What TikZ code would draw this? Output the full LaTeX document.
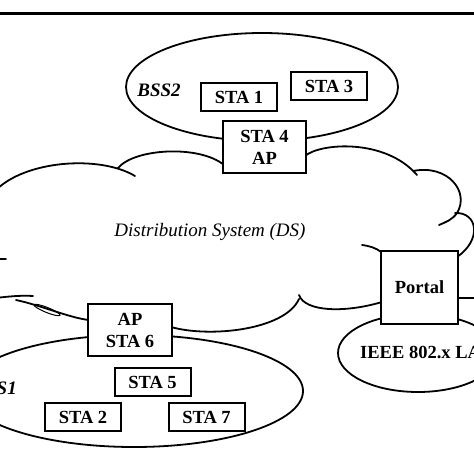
\documentclass[tikz,border=0pt]{standalone}
\usepackage{fontspec}
\setmainfont{Liberation Serif}
\usetikzlibrary{shapes.geometric}
\newcommand\lab{\fontsize{18.5}{22}\selectfont\bfseries}
\begin{document}
\begin{tikzpicture}[x=1pt,y=-1pt,
  box/.style={draw,line width=2pt,fill=white,inner sep=0pt,align=center,font=\lab},
  sta/.style={box,minimum width=76pt,minimum height=28pt},
  oval/.style={draw,ellipse,line width=1.8pt,inner sep=0pt},
  cloudline/.style={line width=1.8pt,line cap=round},
]
\useasboundingbox (0,0) rectangle (474,474);
\fill[white] (0,0) rectangle (474,474);
\clip (0,0) rectangle (474,474);

% top rule
\coordinate (tl) at (-2,13.5);
\coordinate (tr) at (476,13.5);
\draw[line width=3pt] (tl) -- (tr);

% ellipses
\node[oval,minimum width=272pt,minimum height=108pt] (bss2) at (262,87) {};
\node[oval,minimum width=338pt,minimum height=112pt] (bss1) at (134,391) {};
\node[oval,minimum width=160pt,minimum height=78pt] (lan) at (418,353) {};

% cloud (distribution system)
\draw[cloudline]
  (-5,191) .. controls (25,160) and (100,155) .. (135,176)
  (118,168) .. controls (135,148) and (200,145) .. (224,165)
  (305,156) .. controls (320,143) and (385,138) .. (417,175)
  (413,171) .. controls (448,164) and (470,192) .. (457,213) .. controls (452,220) and (446,222) .. (439,225)
  (455,213) .. controls (478,212) and (482,240) .. (457,257)
  (382,302) .. controls (345,313) and (305,312) .. (299,295)
  (299,299) .. controls (285,330) and (210,338) .. (171,327)
  (89,320) .. controls (70,318) and (40,305) .. (16,300)
  (33,296) .. controls (20,295) and (5,297) .. (-5,298)
  (-2,259) -- (6,259)
  (362,245) .. controls (370,246) and (376,248) .. (381,252);
\draw[line width=1pt,rotate around={-22:(47,310)}] (47,310) ellipse (14pt and 2.5pt);

% boxes
\node[sta] (sta1) at (239,97) {STA 1};
\node[sta] (sta3) at (329,86) {STA 3};
\node[box,minimum width=83pt,minimum height=52pt] (sta4) at (264.5,147) {STA 4\\AP};
\node[box,minimum width=77pt,minimum height=73pt] (portal) at (419.5,287.5) {Portal};
\node[box,minimum width=84pt,minimum height=52pt] (sta6) at (130,330) {AP\\STA 6};
\node[sta] (sta5) at (152.5,382) {STA 5};
\node[sta] (sta2) at (83,417) {STA 2};
\node[sta] (sta7) at (206.5,417) {STA 7};

% labels
\node[font=\fontsize{19}{22}\selectfont\bfseries\itshape] (lbss2) at (159,90) {BSS2};
\node[font=\fontsize{19}{22}\selectfont\bfseries\itshape,anchor=east,inner sep=0pt] (lbss1) at (17,388) {BSS1};
\node[font=\fontsize{19}{22}\selectfont\itshape] (ds) at (210,232) {Distribution System (DS)};
\node[font=\lab,anchor=west,inner sep=0pt] (lantxt) at (360,352) {IEEE 802.x LAN};

% link from portal
\coordinate (lanR) at (476,298);
\draw[line width=1.8pt] (portal.east |- lanR) -- (lanR);
\end{tikzpicture}
\end{document}
